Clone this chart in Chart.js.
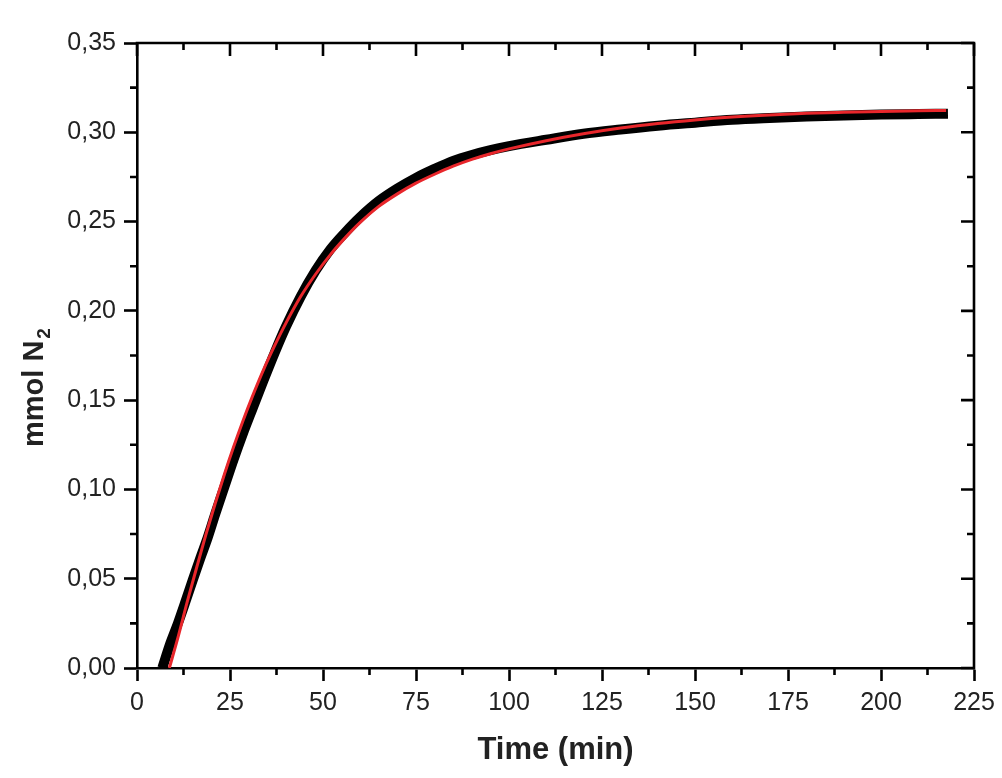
<!DOCTYPE html>
<html>
<head>
<meta charset="utf-8">
<script src="https://cdn.jsdelivr.net/npm/chart.js@4.4.1/dist/chart.umd.min.js"></script>
<style>
html,body{margin:0;padding:0;background:#fff;}
#c{display:block;}
</style>
</head>
<body>
<canvas id="c" width="1002" height="778"></canvas>
<script>
// ---- data ----
const measTime = [6.8, 9, 11, 13, 15, 17, 19, 21, 23.5, 26, 28.5, 31, 34, 37, 40, 44, 48, 52, 56, 60, 65, 70, 75, 80, 85, 90, 95, 100, 110, 120, 130, 140, 150, 160, 170, 180, 190, 200, 210, 218];
const measN2   = [0.000, 0.014, 0.025, 0.037, 0.0494, 0.0614, 0.073, 0.086, 0.1015, 0.117, 0.1315, 0.145, 0.161, 0.1765, 0.191, 0.208, 0.2225, 0.2345, 0.244, 0.2525, 0.2615, 0.2685, 0.2745, 0.2795, 0.284, 0.2873, 0.290, 0.2922, 0.2958, 0.2992, 0.3016, 0.3037, 0.3054, 0.307, 0.308, 0.3088, 0.3094, 0.3099, 0.3102, 0.3104];

const fitTime = [8.7, 11, 13.5, 16, 18.5, 21, 23.5, 26, 28.5, 31, 34, 37, 40, 44, 48, 52, 56, 60, 65, 70, 75, 80, 85, 90, 95, 100, 110, 120, 130, 140, 150, 160, 170, 180, 190, 200, 210, 217.5];
const fitN2   = [0.000, 0.017, 0.037, 0.056, 0.0745, 0.092, 0.1085, 0.124, 0.1385, 0.152, 0.167, 0.1805, 0.193, 0.208, 0.2205, 0.2315, 0.241, 0.2495, 0.2585, 0.2655, 0.2715, 0.2765, 0.281, 0.2848, 0.288, 0.2907, 0.2953, 0.2992, 0.3024, 0.3049, 0.3069, 0.3085, 0.3097, 0.3106, 0.3112, 0.3117, 0.3120, 0.3122];

const xTickLabels = ['0', '25', '50', '75', '100', '125', '150', '175', '200', '225'];
const yTickLabels = ['0,00', '0,05', '0,10', '0,15', '0,20', '0,25', '0,30', '0,35'];
const xMinorTicks = [12.5, 37.5, 62.5, 87.5, 112.5, 137.5, 162.5, 187.5, 212.5];
const yMinorTicks = [0.025, 0.075, 0.125, 0.175, 0.225, 0.275, 0.325];
const xTitle = 'Time (min)';
const yTitleMain = 'mmol N';
const yTitleSub = '2';

// ---- chart ----
const FONT = "'Liberation Sans', Arial, sans-serif";
const toPts = (xs, ys) => xs.map((t, i) => ({x: t, y: ys[i]}));

const framePlugin = {
  id: 'frame',
  afterDraw(chart) {
    const {ctx, chartArea: a, scales: {x, y}} = chart;
    ctx.save();
    ctx.strokeStyle = '#000';
    ctx.lineWidth = 2.6;
    ctx.lineCap = 'butt';
    ctx.beginPath();
    ctx.moveTo(a.left - 1.3, a.top);
    ctx.lineTo(a.right, a.top);
    ctx.lineTo(a.right, a.bottom + 1.3);
    ctx.stroke();
    ctx.beginPath();
    // top & right major ticks (inward)
    xTickLabels.forEach((_, i) => {
      const px = x.getPixelForValue(i * 25);
      ctx.moveTo(px, a.top); ctx.lineTo(px, a.top + 13);
    });
    yTickLabels.forEach((_, i) => {
      const py = y.getPixelForValue(i * 0.05);
      ctx.moveTo(a.right, py); ctx.lineTo(a.right - 13, py);
    });
    // minor ticks
    xMinorTicks.forEach(v => {
      const px = x.getPixelForValue(v);
      ctx.moveTo(px, a.bottom); ctx.lineTo(px, a.bottom + 7);
      ctx.moveTo(px, a.top); ctx.lineTo(px, a.top + 7);
    });
    yMinorTicks.forEach(v => {
      const py = y.getPixelForValue(v);
      ctx.moveTo(a.left, py); ctx.lineTo(a.left - 7, py);
      ctx.moveTo(a.right, py); ctx.lineTo(a.right - 7, py);
    });
    ctx.stroke();

    // y-axis title with subscript
    ctx.fillStyle = '#222';
    ctx.translate(43, 447);
    ctx.rotate(-Math.PI / 2);
    ctx.font = "bold 29px " + FONT;
    ctx.textBaseline = 'alphabetic';
    ctx.textAlign = 'left';
    ctx.fillText(yTitleMain, 0, 0);
    const w = ctx.measureText(yTitleMain).width;
    ctx.font = "bold 19px " + FONT;
    ctx.fillText(yTitleSub, w + 2, 7);
    ctx.restore();
  }
};

new Chart(document.getElementById('c'), {
  type: 'scatter',
  data: {
    datasets: [
      {
        label: 'fit',
        data: toPts(fitTime, fitN2),
        showLine: true,
        borderColor: '#e8262b',
        borderWidth: 3,
        pointRadius: 0,
        cubicInterpolationMode: 'monotone',
        clip: 0,
        order: 0
      },
      {
        label: 'data',
        data: toPts(measTime, measN2),
        showLine: true,
        borderColor: '#000',
        borderWidth: 10,
        pointRadius: 0,
        cubicInterpolationMode: 'monotone',
        clip: 0,
        order: 1
      }
    ]
  },
  options: {
    responsive: false,
    animation: false,
    layout: {padding: {left: 0, right: 28, top: 43, bottom: 0}},
    plugins: {legend: {display: false}, tooltip: {enabled: false}},
    scales: {
      x: {
        type: 'linear',
        position: 'bottom',
        min: 0, max: 225,
        afterFit: s => { s.height = 110; },
        ticks: {
          stepSize: 25,
          autoSkip: false,
          maxRotation: 0,
          padding: 7,
          color: '#222',
          font: {family: FONT, size: 25},
          callback: (v, i) => xTickLabels[i]
        },
        grid: {drawOnChartArea: false, drawTicks: true, tickLength: 13, tickWidth: 2.6, tickColor: '#000'},
        border: {display: true, color: '#000', width: 2.6},
        title: {display: true, text: xTitle, color: '#222', font: {family: FONT, size: 31, weight: 'bold'}, padding: {top: 0, bottom: 9}}
      },
      y: {
        type: 'linear',
        min: 0, max: 0.35,
        afterFit: s => { s.width = 137; },
        ticks: {
          stepSize: 0.05,
          autoSkip: false,
          padding: 8,
          color: '#222',
          font: {family: FONT, size: 25},
          callback: (v, i) => yTickLabels[i]
        },
        grid: {drawOnChartArea: false, drawTicks: true, tickLength: 13, tickWidth: 2.6, tickColor: '#000'},
        border: {display: true, color: '#000', width: 2.6}
      }
    }
  },
  plugins: [framePlugin]
});
</script>
</body>
</html>
